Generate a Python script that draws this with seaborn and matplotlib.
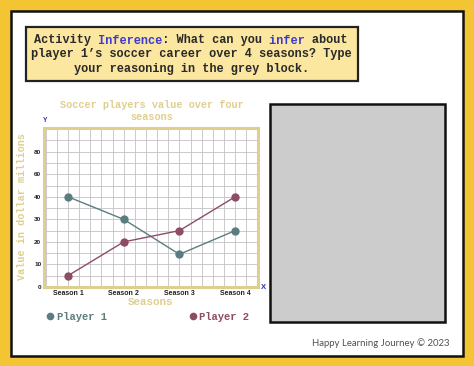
import numpy as np
import pandas as pd
import seaborn as sns
import matplotlib
matplotlib.use("Agg")
import matplotlib.pyplot as plt
from matplotlib.patches import Rectangle

# ---- data ----
seasons = ["Season 1", "Season 2", "Season 3", "Season 4"]
player1 = [40, 30, 14.5, 25]
player2 = [5, 20, 25, 40]
players = ["Player 1", "Player 2"]
ytick_labels = ["0", "10", "20", "30", "40", "60", "80"]

rows = []
for name, vals in zip(players, [player1, player2]):
    for i, (s, v) in enumerate(zip(seasons, vals)):
        rows.append({"idx": i, "season": s, "value": v, "player": name})
df = pd.DataFrame(rows)

sns.set_theme(style="white")
plt.rcParams["font.family"] = ["DejaVu Sans"]

W, H = 474, 366
fig = plt.figure(figsize=(W / 100, H / 100), dpi=100)

# background layer in pixel coordinates
bg = fig.add_axes([0, 0, 1, 1], zorder=0)
bg.set_xlim(0, W)
bg.set_ylim(H, 0)
bg.axis("off")
bg.add_patch(Rectangle((0, 0), W, H, facecolor="#f3c433", edgecolor="none"))
bg.add_patch(Rectangle((11, 10.5), 452, 345, facecolor="white", edgecolor="#111111", lw=1.8))
bg.add_patch(Rectangle((26.5, 27), 332, 54, facecolor="#fce7a1", edgecolor="#222222", lw=1.6))
bg.add_patch(Rectangle((270, 104), 175, 218, facecolor="#cccccc", edgecolor="#111111", lw=1.8))

# header text with coloured words (monospace)
mono = "Liberation Mono"
fs_h = 8.6
cw = 0.6 * fs_h * 100 / 72  # char width in px
lines = [
    ("Activity Inference: What can you infer about", [(9, "Inference"), (33, "infer")]),
    ("player 1\u2019s soccer career over 4 seasons? Type", []),
    ("your reasoning in the grey block.", []),
]
ys = [40.5, 54.5, 69]
cx = 192
for (txt, blues), y in zip(lines, ys):
    x0 = cx - len(txt) * cw / 2
    black = list(txt)
    blue = [" "] * len(txt)
    for pos, word in blues:
        for k, ch in enumerate(word):
            black[pos + k] = " "
            blue[pos + k] = ch
    bg.text(x0, y, "".join(black), family=mono, fontsize=fs_h, fontweight="bold",
            color="#2a2a2a", ha="left", va="center")
    if blues:
        bg.text(x0, y, "".join(blue), family=mono, fontsize=fs_h, fontweight="bold",
                color="#3d3ad0", ha="left", va="center")

bg.text(450, 343, "Happy Learning Journey \u00a9 2023", family="Lato", fontsize=6.9,
        color="#505050", ha="right", va="center")

# chart title and labels
khaki = "#e0cf8c"
bg.text(152, 105, "Soccer players value over four", family=mono, fontsize=7.3,
        fontweight="bold", color=khaki, ha="center", va="center")
bg.text(152, 117, "seasons", family=mono, fontsize=7.3, fontweight="bold",
        color=khaki, ha="center", va="center")
bg.text(22, 207, "Value in dollar millions", family=mono, fontsize=7.3, fontweight="bold",
        color=khaki, ha="center", va="center", rotation=90)
bg.text(151, 302, "Seasons", family=mono, fontsize=7.8, fontweight="bold",
        color=khaki, ha="center", va="center")
bg.text(45, 121, "Y", family="Liberation Sans", fontsize=4.8, fontweight="bold",
        color="#2a2acc", ha="center", va="center")
bg.text(263.5, 287.5, "X", family="Liberation Sans", fontsize=5.5, fontweight="bold",
        color="#2a2acc", ha="center", va="center")

# main axes
c1, c2 = "#5b7d80", "#8e4c66"
ax = fig.add_axes([44 / W, 1 - 287 / H, (258 - 44) / W, (287 - 128) / H], zorder=2)
ax.set_facecolor("white")
sns.lineplot(data=df, x="idx", y="value", hue="player", palette=[c1, c2],
             marker="o", markersize=6, markeredgewidth=0, linewidth=1.0,
             ax=ax, legend=False, zorder=3)
ax.set_xlim(-0.43, 3.41)
ax.set_ylim(0, 70.5)
ax.set_xticks(range(len(seasons)))
ax.set_xticklabels(seasons, family="Liberation Sans", fontsize=5, fontweight="bold")
ax.set_yticks(np.arange(0, 10 * len(ytick_labels), 10))
ax.set_yticklabels(ytick_labels, family="Liberation Sans", fontsize=4.6, fontweight="bold")
ax.set_xticks(np.arange(-0.4, 3.41, 0.2), minor=True)
ax.set_yticks(np.arange(0, 70.1, 5), minor=True)
ax.grid(which="both", color="#c4c2c8", lw=0.6)
ax.tick_params(which="both", length=0, pad=2, colors="#222222")
ax.set_xlabel("")
ax.set_ylabel("")
for sp in ax.spines.values():
    sp.set_color("#ddd08f")
    sp.set_linewidth(2.2)

# legend (manual, in pixel coordinates)
bg.plot([50], [316], "o", color=c1, markersize=5.5, markeredgewidth=0)
bg.text(57, 316.5, "Player 1", family=mono, fontsize=7.6, fontweight="bold",
        color=c1, ha="left", va="center")
bg.plot([193.5], [316], "o", color=c2, markersize=5.5, markeredgewidth=0)
bg.text(199.5, 316.5, "Player 2", family=mono, fontsize=7.6, fontweight="bold",
        color=c2, ha="left", va="center")

fig.savefig("out.png", dpi=100)
